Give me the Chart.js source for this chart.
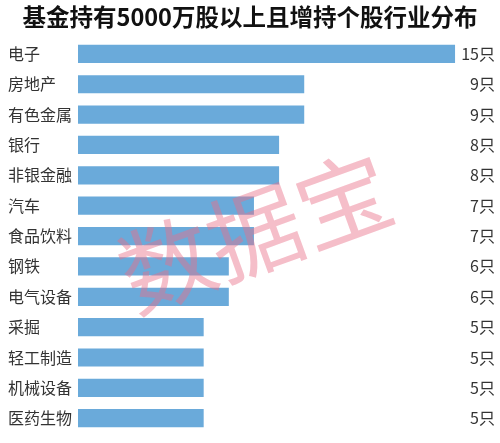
<!DOCTYPE html>
<html>
<head>
<meta charset="utf-8">
<script src="https://cdn.jsdelivr.net/npm/chart.js@4"></script>
<style>
  html, body { margin: 0; padding: 0; background: #fff; }
  #wrap { width: 500px; height: 443px; }
</style>
</head>
<body>
<div id="wrap"><canvas id="chart"></canvas></div>
<script>
const categories = ['电子', '房地产', '有色金属', '银行', '非银金融', '汽车', '食品饮料', '钢铁', '电气设备', '采掘', '轻工制造', '机械设备', '医药生物'];
const counts = [15, 9, 9, 8, 8, 7, 7, 6, 6, 5, 5, 5, 5];
const unit = '只';
const axisMax = 16.47; // leaves room on the right for the value labels

const FONT = '"Noto Sans CJK SC", "Noto Sans", sans-serif';

// value labels at the right edge of the picture
const valueLabels = {
  id: 'valueLabels',
  afterDatasetsDraw(chart) {
    const { ctx } = chart;
    const meta = chart.getDatasetMeta(0);
    ctx.save();
    ctx.font = '16px ' + FONT;
    ctx.fillStyle = '#333';
    ctx.textAlign = 'right';
    ctx.textBaseline = 'middle';
    meta.data.forEach((bar, i) => {
      ctx.fillText(counts[i] + unit, chart.width - 5, bar.y);
    });
    ctx.restore();
  }
};

// "数据宝" watermark
const watermark = {
  id: 'watermark',
  afterDraw(chart) {
    const { ctx } = chart;
    ctx.save();
    ctx.translate(255, 232);
    ctx.rotate(-20 * Math.PI / 180);
    ctx.font = '94px ' + FONT;
    ctx.fillStyle = 'rgba(232, 110, 135, 0.45)';
    ctx.textAlign = 'center';
    ctx.textBaseline = 'middle';
    ctx.fillText('数据宝', 0, 0);
    ctx.restore();
  }
};

new Chart(document.getElementById('chart'), {
  type: 'bar',
  data: {
    labels: categories,
    datasets: [{
      data: counts,
      backgroundColor: 'rgb(106, 170, 218)',
      borderWidth: 0,
      categoryPercentage: 1,
      barPercentage: 0.6
    }]
  },
  options: {
    indexAxis: 'y',
    responsive: true,
    maintainAspectRatio: false,
    animation: false,
    layout: { padding: { left: 8, right: 8, top: 0, bottom: 4 } },
    scales: {
      x: { display: false, min: 0, max: axisMax },
      y: {
        grid: { display: false },
        border: { display: false },
        ticks: {
          color: '#333',
          font: { family: FONT, size: 16 },
          crossAlign: 'far',
          padding: 0
        },
        afterFit(scale) { scale.width = 70; }
      }
    },
    plugins: {
      legend: { display: false },
      tooltip: { enabled: false },
      title: {
        display: true,
        text: '基金持有5000万股以上且增持个股行业分布',
        color: '#111',
        font: { family: FONT, size: 23.5, weight: 'bold' },
        padding: { top: 3, bottom: 7.5 }
      }
    }
  },
  plugins: [valueLabels, watermark]
});
</script>
</body>
</html>
